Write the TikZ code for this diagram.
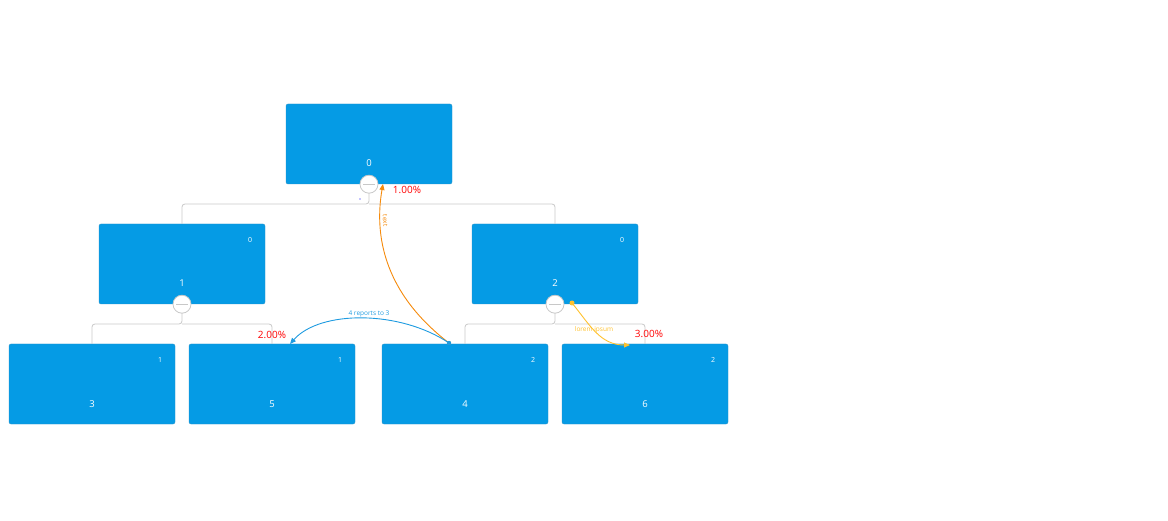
\documentclass[tikz,border=0pt]{standalone}
\usepackage{fontspec}
\setmainfont{Open Sans}
\usetikzlibrary{arrows.meta}
\definecolor{bx}{HTML}{059BE5}
\definecolor{ln}{HTML}{C8C8C8}
\definecolor{org}{HTML}{F58A0B}
\definecolor{blu}{HTML}{1E9BE0}
\definecolor{yel}{HTML}{FFC12E}
\begin{document}
\begin{tikzpicture}[x=1pt,y=-1pt,
 box/.style={draw=bx!70!gray,fill=bx,rounded corners=2pt,minimum width=166pt,minimum height=80pt,inner sep=0pt},
 big/.style={text=white,font=\fontsize{9.5}{11}\selectfont},
 small/.style={text=white,font=\fontsize{7}{8}\selectfont},
 pct/.style={text=red,font=\fontsize{10}{12}\selectfont},
 con/.style={draw=ln,line width=0.8pt,rounded corners=3pt},
 minus/.style={circle,draw=ln,fill=white,minimum size=18pt,inner sep=0pt,line width=0.8pt}]
\useasboundingbox (0,0) rectangle (1168,521);
\node[box] (n0) at (369,144) {};
\node[box] (n1) at (182,264) {};
\node[box] (n2) at (555,264) {};
\node[box] (n3) at (92,384) {};
\node[box] (n5) at (272,384) {};
\node[box] (n4) at (465,384) {};
\node[box] (n6) at (645,384) {};
% connectors
\draw[con] (n0.south) -- (369,204) -| (n1.north);
\draw[con] (369,204) -| (n2.north);
\draw[con] (n1.south) -- (182,324) -| (n3.north);
\draw[con] (182,324) -| (n5.north);
\draw[con] (n2.south) -- (555,324) -| (n4.north);
\draw[con] (555,324) -| (n6.north);
\foreach \n in {n0,n1,n2}{
 \node[minus] (m\n) at (\n.south) {};
 \draw[ln,line width=0.8pt] ([xshift=-6pt]m\n.center) -- ([xshift=6pt]m\n.center);}
% labels
\node[big] (t0) at (369,163) {0};
\node[big] (t1) at (182,283) {1};
\node[big] (t2) at (555,283) {2};
\node[big] (t3) at (92,404) {3};
\node[big] (t5) at (272,404) {5};
\node[big] (t4) at (465,404) {4};
\node[big] (t6) at (645,404) {6};
\node[small] (s1) at (250,240) {0};
\node[small] (s2) at (622,240) {0};
\node[small] (s3) at (160,360) {1};
\node[small] (s5) at (340,360) {1};
\node[small] (s4) at (533,360) {2};
\node[small] (s6) at (713,360) {2};
\fill[blue] (360,199) circle (0.7pt);
% relations
\coordinate (a4) at (449,343);
\coordinate (a0) at (383,184);
\coordinate (a5) at (290,344);
\coordinate (a2) at (572,303);
\coordinate (a6) at (630,345);
\fill[org] (a4) circle (2pt);
\draw[org,line width=0.9pt,-{Triangle[length=6pt,width=5pt]}] (a4) .. controls (380,290) and (375,230) .. (a0)
 node[pos=0.75,sloped,above,font=\fontsize{6.5}{7}\selectfont,text=org,yshift=-1pt] (lt) {text};
\draw[blu,line width=0.9pt,-{Triangle[length=6pt,width=5pt]}] (a4) .. controls (400,310) and (320,310) .. (a5);
\node[text=blu,font=\fontsize{6.5}{7}\selectfont] (lb) at (369,314) {4 reports to 3};
\fill[blu] (a4) circle (2.2pt);
\fill[yel] (a2) circle (2.5pt);
\draw[yel,line width=0.9pt,-{Triangle[length=6pt,width=5pt]}] (a2) .. controls (590,325) and (600,345) .. (a6);
\node[text=yel,font=\fontsize{6.5}{7}\selectfont] (ly) at (594,330) {lorem ipsum};
\node[pct] (p0) at (407,190) {1.00\%};
\node[pct] (p5) at (272,335) {2.00\%};
\node[pct] (p6) at (649,334) {3.00\%};
\end{tikzpicture}
\end{document}
